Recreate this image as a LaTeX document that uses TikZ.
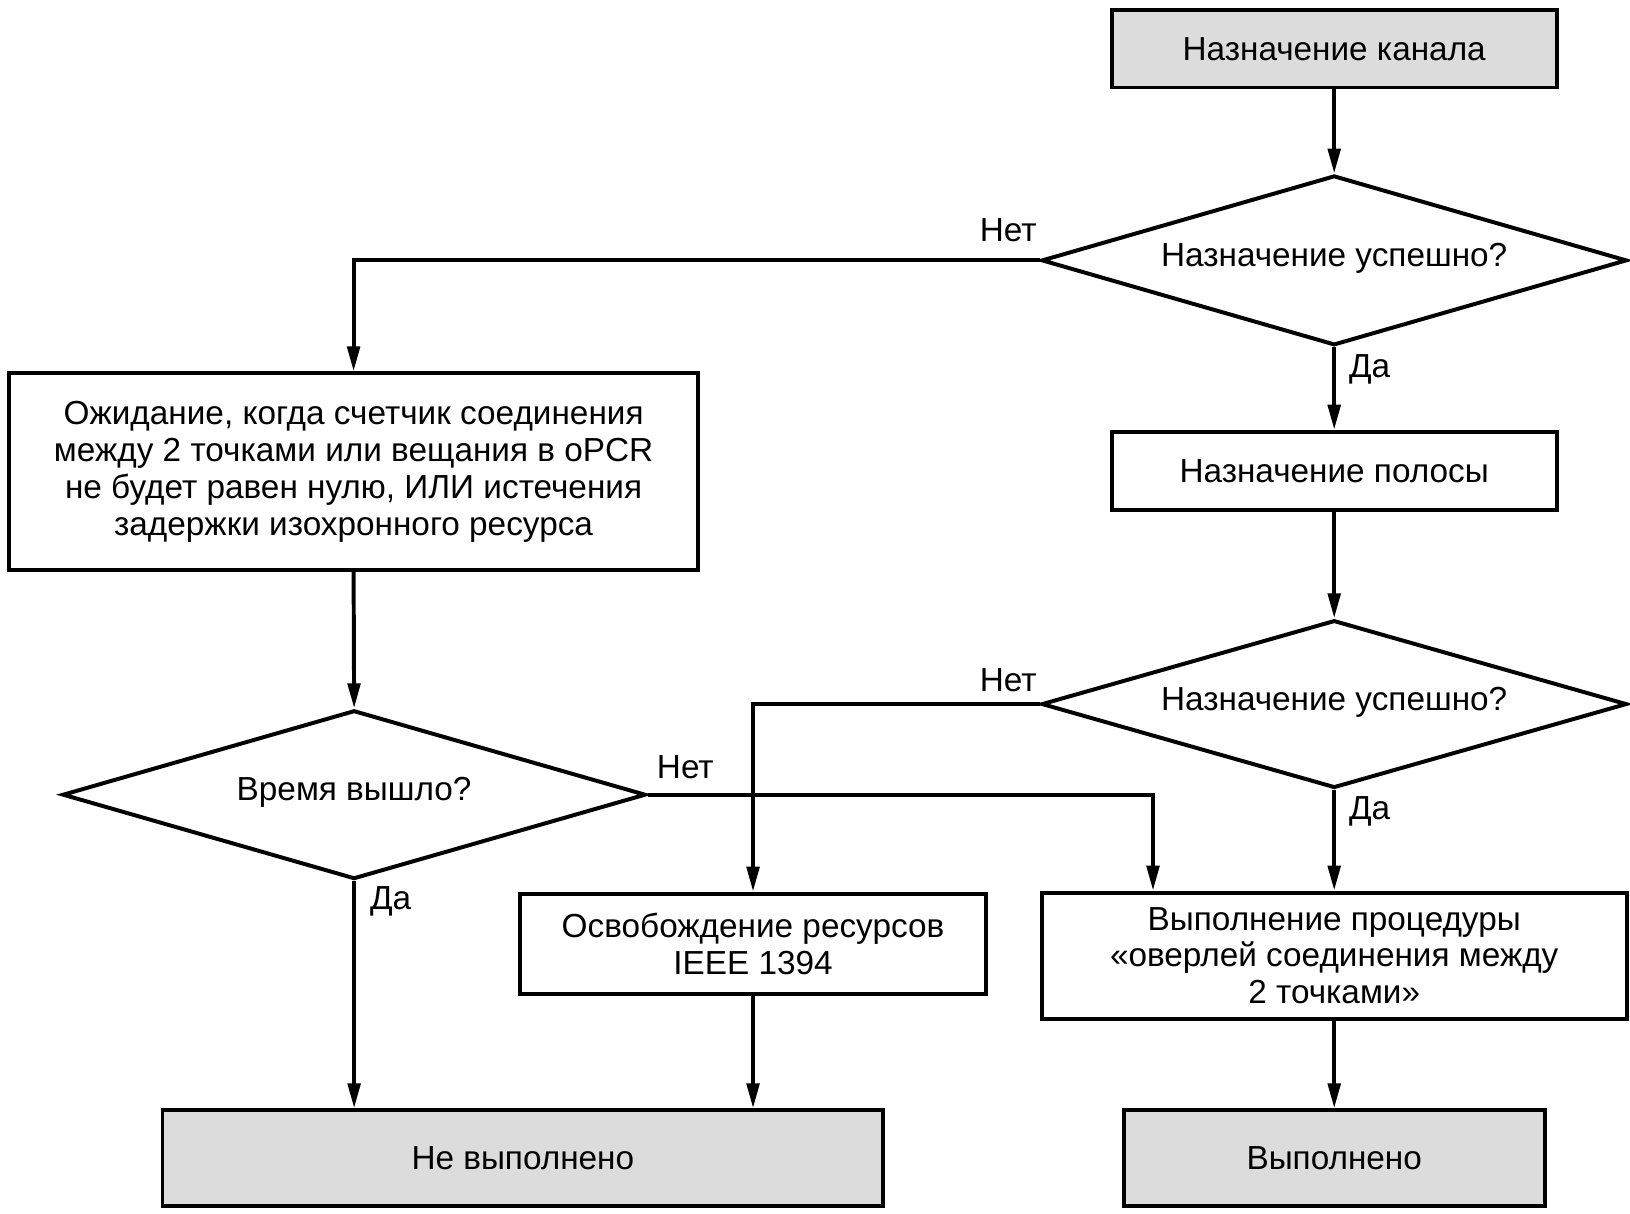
\documentclass[tikz,border=0pt]{standalone}
\usepackage{fontspec}
\setmainfont{Liberation Sans}
\usetikzlibrary{arrows.meta,shapes.geometric}
\definecolor{boxgray}{HTML}{DCDCDC}
\begin{document}
\begin{tikzpicture}[x=1pt,y=-1pt,
  every node/.style={font=\fontsize{32}{35.3}\selectfont},
  plainbox/.style={draw,line width=3.8pt,align=center,inner sep=0pt},
  graybox/.style={plainbox,fill=boxgray},
  decision/.style={draw,line width=3.8pt,diamond,aspect=3.45,inner sep=0pt},
  conn/.style={line width=3.8pt,-{Triangle[length=24pt,width=12pt]}},
  lbl/.style={inner sep=0pt}]
\useasboundingbox (0,0) rectangle (1565,1165);
% boxes
\node[graybox,minimum width=427pt,minimum height=74pt] (start) at (1281,47) {Назначение канала};
\node[decision,minimum width=562pt,minimum height=163pt] (d1) at (1281,250) {};
\node at (1281,248) {Назначение успешно?};
\node[plainbox,minimum width=427pt,minimum height=75pt] (band) at (1281,452) {Назначение полосы};
\node[decision,minimum width=562pt,minimum height=161pt] (d2) at (1281,676) {};
\node at (1281,674) {Назначение успешно?};
\node[plainbox,minimum width=661pt,minimum height=189pt] (wait) at (339.5,453) {Ожидание, когда счетчик соединения\\между 2 точками или вещания в oPCR\\не будет равен нулю, ИЛИ истечения\\задержки изохронного ресурса};
\node[decision,minimum width=560pt,minimum height=162pt] (d3) at (340,763) {};
\node at (340,761) {Время вышло?};
\node[plainbox,minimum width=448pt,minimum height=96pt] (free) at (723,906) {Освобождение ресурсов\\IEEE 1394};
\node[plainbox,minimum width=562pt,minimum height=121pt] (overlay) at (1281,917.5) {Выполнение процедуры\\«оверлей соединения между\\2 точками»};
\node[graybox,minimum width=692pt,minimum height=92pt] (fail) at (502,1112) {Не выполнено};
\node[graybox,minimum width=404pt,minimum height=92pt] (done) at (1281,1112) {Выполнено};
% coordinates
\coordinate (ovx) at (1107,0);
\coordinate (failA) at (340,0);
\coordinate (failB) at (723,0);
% connectors
\draw[conn] (start.south) -- (d1.north);
\draw[conn] (d1.west) -| (wait.north);
\draw[conn] (d1.south) -- (band.north);
\draw[conn] (band.south) -- (d2.north);
\draw[conn] (d2.west) -| (free.north);
\draw[conn] (d2.south) -- (overlay.north);
\draw[conn] (wait.south) -- (d3.north);
\draw[conn] (d3.east) -| (overlay.north -| ovx);
\draw[conn] (d3.south) -- (fail.north -| failA);
\draw[conn] (free.south) -- (fail.north -| failB);
\draw[conn] (overlay.south) -- (done.north);
% labels
\node[lbl] (n1) at (968,221) {Нет};
\node[lbl] (y1) at (1315,355) {Да};
\node[lbl] (n2) at (968,653) {Нет};
\node[lbl] (y2) at (1315,779) {Да};
\node[lbl] (n3) at (658,737) {Нет};
\node[lbl] (y3) at (375,865) {Да};
\end{tikzpicture}
\end{document}
